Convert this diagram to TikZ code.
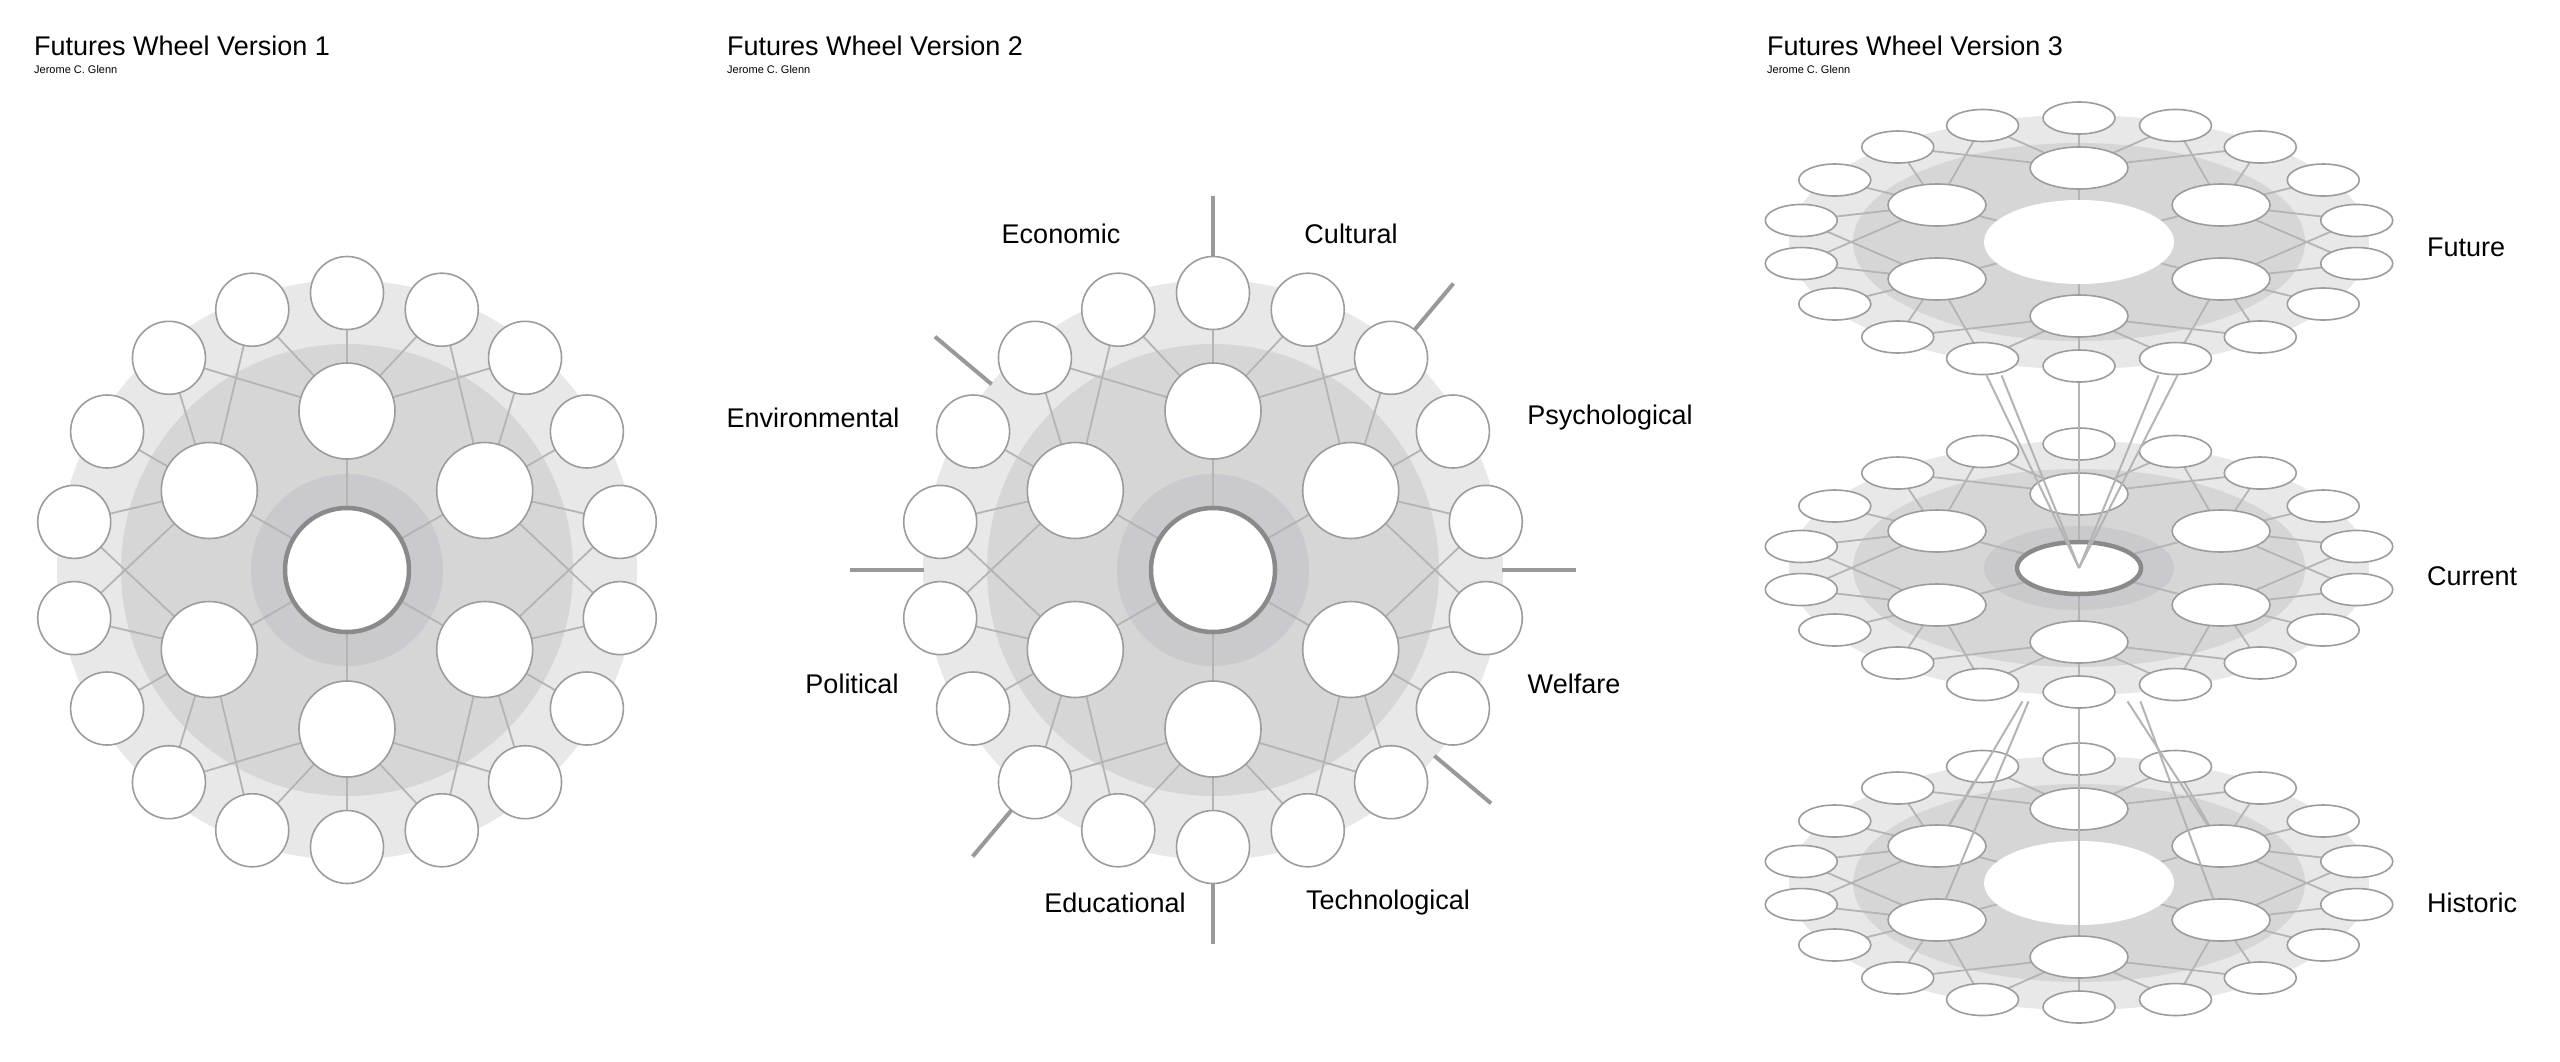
\documentclass[tikz,border=0pt]{standalone}
\usepackage{fontspec}
\setmainfont{Liberation Sans}
\usetikzlibrary{shapes.geometric,calc}
\definecolor{bglight}{HTML}{E8E8E8}
\definecolor{bgmid}{HTML}{D6D6D6}
\definecolor{bghalo}{HTML}{C9C9CE}
\definecolor{connc}{HTML}{B4B4B4}
\definecolor{strokec}{HTML}{9C9C9C}
\definecolor{centc}{HTML}{8A8A8A}
\definecolor{spokec}{HTML}{999999}
\newcommand\fwlinks[3]{%
  \coordinate (#1c) at (#2,#3);
  \foreach \k in {0,...,5} \coordinate (#1m\k) at ({#2+\mRx*cos(90+60*\k)},{#3-\mRy*sin(90+60*\k)});
  \foreach \j in {0,...,17} \coordinate (#1o\j) at ({#2+\oRx*cos(90+20*\j)},{#3-\oRy*sin(90+20*\j)});
  \foreach \k in {0,...,5}{%
    \draw[conn] (#1c) -- (#1m\k);
    \foreach \d in {-2,...,2}{%
      \pgfmathtruncatemacro\jj{mod(3*\k+\d+18,18)}%
      \draw[conn] (#1m\k) -- (#1o\jj);}}
}
\newcommand\fwnodes[1]{%
  \foreach \k in {0,...,5} \node[midn] (#1M\k) at (#1m\k) {};
  \foreach \j in {0,...,17} \node[outn] (#1O\j) at (#1o\j) {};
}
\begin{document}
\begin{tikzpicture}[x=1pt,y=-1pt,
  conn/.style={draw=connc,line width=1.8pt},
  ovl/.style={draw=connc,line width=2pt},
  spokeln/.style={draw=spokec,line width=4pt},
  title/.style={anchor=west,font=\fontsize{27}{32}\selectfont,inner sep=0pt},
  author/.style={anchor=west,font=\fontsize{11}{13}\selectfont,inner sep=0pt},
  lab/.style={font=\fontsize{27}{32}\selectfont,inner sep=0pt}]
\useasboundingbox[fill=white] (0,0) rectangle (2560,1061);

% titles
\node[title] (t1) at (34,46) {Futures Wheel Version 1};
\node[author] (a1) at (34,70) {Jerome C. Glenn};
\node[title] (t2) at (727,46) {Futures Wheel Version 2};
\node[author] (a2) at (727,70) {Jerome C. Glenn};
\node[title] (t3) at (1767,46) {Futures Wheel Version 3};
\node[author] (a3) at (1767,70) {Jerome C. Glenn};

% ---------- wheels 1 and 2 ----------
\def\mRx{159}\def\mRy{159}\def\oRx{277}\def\oRy{277}
\tikzset{midn/.style={circle,draw=strokec,fill=white,line width=1.6pt,minimum size=96pt,inner sep=0pt},
         outn/.style={circle,draw=strokec,fill=white,line width=1.6pt,minimum size=73pt,inner sep=0pt}}
\foreach \cx in {347,1213}{
  \fill[bglight] (\cx,570) circle (290);
  \fill[bgmid] (\cx,570) circle (226);
  \fill[bghalo] (\cx,570) circle (96);
}
\fwlinks{A}{347}{570}
\fwlinks{B}{1213}{570}
\fwnodes{A}
\fwnodes{B}
\node[circle,draw=centc,fill=white,line width=4.5pt,minimum size=124pt,inner sep=0pt] (AC) at (Ac) {};
\node[circle,draw=centc,fill=white,line width=4.5pt,minimum size=124pt,inner sep=0pt] (BC) at (Bc) {};

% spokes of wheel 2
\foreach \a/\ra/\rb in {90/314/374,50/314/374,-90/314/374,-130/314/374,0/289/363,-40/289/363,180/289/363,140/289/363}{
  \coordinate (sa) at ({1213+\ra*cos(\a)},{570-\ra*sin(\a)});
  \coordinate (sb) at ({1213+\rb*cos(\a)},{570-\rb*sin(\a)});
  \draw[spokeln] (sa) -- (sb);
}
\node[lab] (lEco) at (1061,234) {Economic};
\node[lab] (lCul) at (1351,234) {Cultural};
\node[lab] (lEnv) at (813,418) {Environmental};
\node[lab] (lPsy) at (1610,418) {Psychological};
\node[lab] (lPol) at (852,684) {Political};
\node[lab] (lWel) at (1574,684) {Welfare};
\node[lab] (lEdu) at (1115,903) {Educational};
\node[lab] (lTec) at (1388,903) {Technological};

% ---------- wheel 3 ----------
\def\mRx{164}\def\mRy{74}\def\oRx{282}\def\oRy{124}
\tikzset{midn/.style={ellipse,draw=strokec,fill=white,line width=1.6pt,minimum width=98pt,minimum height=42pt,inner sep=0pt},
         outn/.style={ellipse,draw=strokec,fill=white,line width=1.6pt,minimum width=72pt,minimum height=32pt,inner sep=0pt}}
\foreach \cy in {242,568,883}{
  \fill[bglight] (2079,\cy) ellipse [x radius=290,y radius=127];
  \fill[bgmid] (2079,\cy) ellipse [x radius=226,y radius=99];
}
\fill[bghalo] (2079,568) ellipse [x radius=95,y radius=42];
\fwlinks{F}{2079}{242}
\fwlinks{C}{2079}{568}
\fwlinks{H}{2079}{883}
\fwnodes{F}
\fwnodes{C}
\fwnodes{H}
\node[ellipse,fill=white,minimum width=190pt,minimum height=84pt,inner sep=0pt] (FC) at (Fc) {};
\node[ellipse,fill=white,minimum width=190pt,minimum height=84pt,inner sep=0pt] (HC) at (Hc) {};
\node[ellipse,draw=centc,fill=white,line width=4.5pt,minimum width=124pt,minimum height=52pt,inner sep=0pt] (CC) at (Cc) {};

% overlay connectors between layers
\draw[ovl] ([xshift=4pt]FO8.south) -- (Cc);
\draw[ovl] ([xshift=19pt]FO8.south) -- (Cc);
\draw[ovl] ([xshift=-17pt]FO10.south) -- (Cc);
\draw[ovl] ([xshift=2pt]FO10.south) -- (Cc);
\draw[ovl] (FO9.south) -- (CC.north);
\draw[ovl] (CO9.south) -- (HM3);
\draw[ovl] ([xshift=40pt]CO8.south) -- (HM1);
\draw[ovl] ([xshift=46pt]CO8.south) -- (HM2);
\draw[ovl] ([xshift=-48pt]CO10.south) -- (HM5);
\draw[ovl] ([xshift=-35pt]CO10.south) -- (HM4);

\node[lab] (lFut) at (2466,247) {Future};
\node[lab] (lCur) at (2472,576) {Current};
\node[lab] (lHis) at (2472,903) {Historic};
\end{tikzpicture}
\end{document}
